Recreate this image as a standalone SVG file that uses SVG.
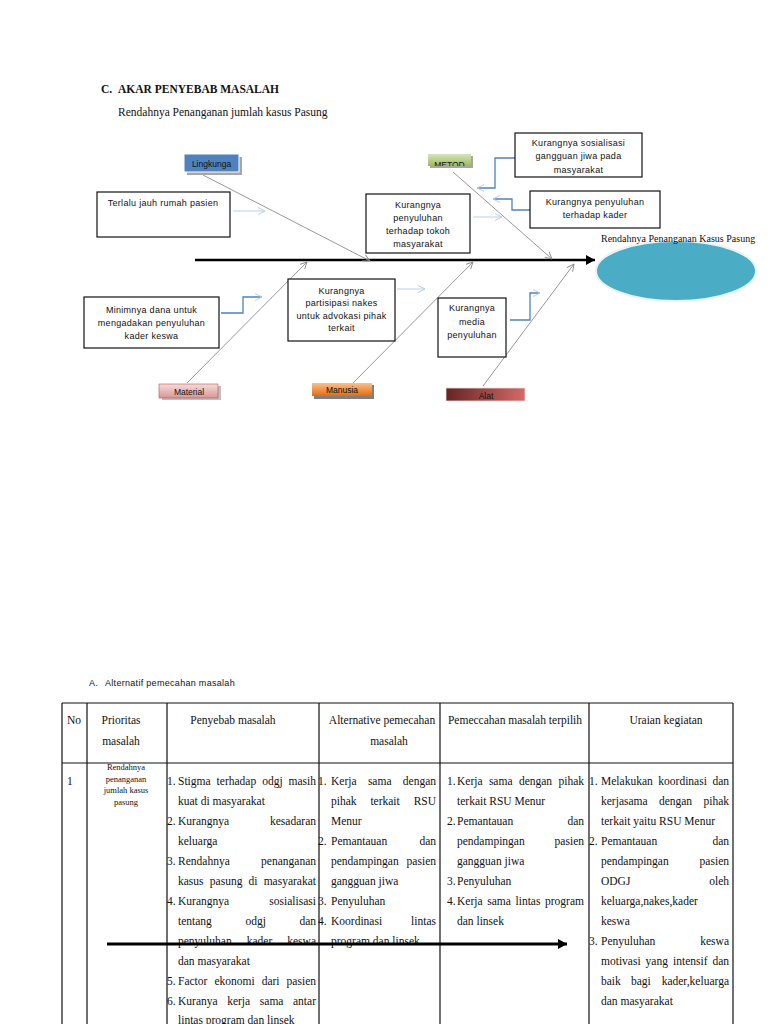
<svg xmlns="http://www.w3.org/2000/svg" width="768" height="1024" viewBox="0 0 768 1024">
<style>
.serif{font-family:"Liberation Serif","Times New Roman",serif;fill:#111}
.sans{font-family:"Liberation Sans",Arial,sans-serif;fill:#111;font-size:9px;letter-spacing:0.3px}
.box{fill:#fff;stroke:#111;stroke-width:1.2}
.diag{stroke:#8c8c8c;stroke-width:0.9;fill:none}
.faint{stroke:#c6d9f1;stroke-width:1.2;fill:none}
.elbow{stroke:#4f81bd;stroke-width:1.3;fill:none}
.tl{stroke:#111;stroke-width:1.2}
.t{font-family:"Liberation Serif","Times New Roman",serif;font-size:11.5px;fill:#111}
.e{text-anchor:end}
.m{text-anchor:middle}
.lbl{font-family:"Liberation Sans",Arial,sans-serif;font-size:8.5px;fill:#111;text-anchor:middle}
</style>
<defs>
<marker id="mg" markerUnits="userSpaceOnUse" markerWidth="10" markerHeight="10" refX="7" refY="4" orient="auto"><path d="M0,0.5 L7,4 L0,7.5" fill="none" stroke="#8c8c8c" stroke-width="0.9"/></marker>
<marker id="ml" markerUnits="userSpaceOnUse" markerWidth="10" markerHeight="10" refX="7" refY="4" orient="auto"><path d="M0,0.5 L7,4 L0,7.5" fill="none" stroke="#b8cce4" stroke-width="1"/></marker>
<marker id="mb" markerUnits="userSpaceOnUse" markerWidth="12" markerHeight="12" refX="9" refY="5" orient="auto"><path d="M0,0 L9,5 L0,10 Z" fill="#000"/></marker>
<linearGradient id="gMat" x1="0" y1="0" x2="0" y2="1"><stop offset="0" stop-color="#f2dcdb"/><stop offset="1" stop-color="#d99694"/></linearGradient>
<linearGradient id="gMan" x1="0" y1="0" x2="0" y2="1"><stop offset="0" stop-color="#fbc08f"/><stop offset="1" stop-color="#e36c09"/></linearGradient>
<linearGradient id="gAlat" x1="0" y1="0" x2="1" y2="0"><stop offset="0" stop-color="#632523"/><stop offset="1" stop-color="#d46a67"/></linearGradient>
<linearGradient id="gMet" x1="0" y1="0" x2="0" y2="1"><stop offset="0" stop-color="#d7e4bd"/><stop offset="1" stop-color="#9bbb59"/></linearGradient>
<clipPath id="cMet"><rect x="428" y="154" width="43" height="12"/></clipPath>
</defs>

<g id="title">
<text class="serif" x="101" y="93" font-size="11.5" font-weight="bold">C.</text>
<text class="serif" x="118" y="93" font-size="11.5" font-weight="bold">AKAR PENYEBAB MASALAH</text>
<text class="serif" x="118" y="116" font-size="11.5">Rendahnya Penanganan jumlah kasus Pasung</text>
</g>

<g id="connectors">
<line x1="195" y1="260" x2="595" y2="260" stroke="#000" stroke-width="2.5" marker-end="url(#mb)"/>
<line class="diag" x1="203" y1="175" x2="370" y2="261" marker-end="url(#mg)"/>
<line class="diag" x1="453" y1="172" x2="552" y2="259" marker-end="url(#mg)"/>
<line class="diag" x1="187" y1="383" x2="307" y2="262" marker-end="url(#mg)"/>
<line class="diag" x1="353" y1="383" x2="473" y2="262" marker-end="url(#mg)"/>
<line class="diag" x1="483" y1="386" x2="574" y2="264" marker-end="url(#mg)"/>
<line class="faint" x1="233" y1="211" x2="265" y2="211" marker-end="url(#ml)"/>
<line class="faint" x1="473" y1="217" x2="502" y2="217" marker-end="url(#ml)"/>
<line class="faint" x1="397" y1="289" x2="425" y2="289" marker-end="url(#ml)"/>
<polyline class="elbow" points="515,158 495,158 495,188 477,188" marker-end="url(#ml)"/>
<polyline class="elbow" points="530,210 512,210 512,199 493,199" marker-end="url(#ml)"/>
<polyline class="elbow" points="221,313 243,313 243,297 262,297" marker-end="url(#ml)"/>
<polyline class="elbow" points="510,320 530,320 530,293 540,293" marker-end="url(#ml)"/>
</g>

<g id="lingkungan">
<rect x="187" y="157" width="55" height="18" fill="#a6a6a6"/>
<rect x="184" y="154" width="55" height="18" fill="#4f81bd" stroke="#fff" stroke-width="1"/>
<text class="lbl" x="211.5" y="166.5">Lingkunga</text>
</g>

<g id="metode">
<rect x="430" y="156" width="43" height="12" fill="#a6a6a6"/>
<rect x="428" y="154" width="43" height="12" fill="url(#gMet)"/>
<text class="lbl" x="449.5" y="167.5" clip-path="url(#cMet)">METOD</text>
</g>

<g id="material">
<rect x="162" y="386" width="59" height="14" fill="#bfbfbf"/>
<rect x="159" y="384" width="59" height="14" fill="url(#gMat)" stroke="#c0504d" stroke-width="0.6"/>
<text class="lbl" x="189" y="394.5">Material</text>
</g>

<g id="manusia">
<rect x="314" y="385" width="60" height="14" fill="#7f7f7f"/>
<rect x="312" y="383" width="60" height="13" fill="url(#gMan)"/>
<text class="lbl" x="342" y="393">Manusia</text>
</g>

<g id="alat">
<rect x="446" y="388" width="79" height="13" fill="url(#gAlat)" stroke="#f2dcdb" stroke-width="0.8"/>
<text class="lbl" x="486" y="398.5">Alat</text>
</g>

<g id="n-terlalu">
<rect class="box" x="97" y="192" width="133" height="45"/>
<text class="sans" x="163" y="206" text-anchor="middle">Terlalu jauh rumah pasien</text>
</g>

<g id="n-sosialisasi">
<rect class="box" x="515" y="133" width="127" height="44"/>
<text class="sans" text-anchor="middle"><tspan x="578.5" y="145.5">Kurangnya sosialisasi</tspan><tspan x="578.5" y="159">gangguan jiwa pada</tspan><tspan x="578.5" y="172.5">masyarakat</tspan></text>
</g>

<g id="n-kader">
<rect class="box" x="530" y="191" width="130" height="37"/>
<text class="sans" text-anchor="middle"><tspan x="595" y="204.5">Kurangnya penyuluhan</tspan><tspan x="595" y="218">terhadap kader</tspan></text>
</g>

<g id="n-tokoh">
<rect class="box" x="366" y="194" width="104" height="59"/>
<text class="sans" text-anchor="middle"><tspan x="418" y="208">Kurangnya</tspan><tspan x="418" y="221">penyuluhan</tspan><tspan x="418" y="234">terhadap tokoh</tspan><tspan x="418" y="247">masyarakat</tspan></text>
</g>

<g id="n-dana">
<rect class="box" x="84" y="297" width="135" height="51"/>
<text class="sans" text-anchor="middle"><tspan x="151.5" y="312.5">Minimnya dana untuk</tspan><tspan x="151.5" y="325.5">mengadakan penyuluhan</tspan><tspan x="151.5" y="338.5">kader keswa</tspan></text>
</g>

<g id="n-nakes">
<rect class="box" x="288" y="279" width="107" height="62"/>
<text class="sans" text-anchor="middle"><tspan x="341.5" y="293.5">Kurangnya</tspan><tspan x="341.5" y="306">partisipasi nakes</tspan><tspan x="341.5" y="318.5">untuk advokasi pihak</tspan><tspan x="341.5" y="331">terkait</tspan></text>
</g>

<g id="n-media">
<rect class="box" x="438" y="298" width="68" height="59"/>
<text class="sans" text-anchor="middle"><tspan x="472" y="311">Kurangnya</tspan><tspan x="472" y="324.5">media</tspan><tspan x="472" y="338">penyuluhan</tspan></text>
</g>

<g id="n-effect">
<ellipse cx="676" cy="271" rx="80" ry="30" fill="#4bacc6" stroke="#e8f3f8" stroke-width="2"/>
<text class="serif" x="601" y="242" font-size="10">Rendahnya Penanganan Kasus Pasung</text>
</g>

<g id="table-title">
<text class="sans" x="89" y="686" font-size="9" letter-spacing="0.2">A.</text>
<text class="sans" x="105" y="686" font-size="9" letter-spacing="0.2">Alternatif  pemecahan masalah</text>
</g>

<g id="table">
<line class="tl" x1="62" y1="703" x2="733" y2="703"/>
<line class="tl" x1="62" y1="763" x2="733" y2="763"/>
<line class="tl" x1="62" y1="703" x2="62" y2="1024"/>
<line class="tl" x1="87" y1="703" x2="87" y2="1024"/>
<line class="tl" x1="167" y1="703" x2="167" y2="1024"/>
<line class="tl" x1="319" y1="703" x2="319" y2="1024"/>
<line class="tl" x1="440" y1="703" x2="440" y2="1024"/>
<line class="tl" x1="589" y1="703" x2="589" y2="1024"/>
<line class="tl" x1="733" y1="703" x2="733" y2="1024"/>

<text class="t" x="67" y="724">No</text>
<text class="t m" x="121" y="724">Prioritas</text>
<text class="t m" x="121" y="745">masalah</text>
<text class="t m" x="233" y="724">Penyebab masalah</text>
<text class="t m" x="382" y="724">Alternative pemecahan</text>
<text class="t m" x="389" y="745">masalah</text>
<text class="t m" x="515" y="724">Pemeccahan masalah terpilih</text>
<text class="t m" x="666" y="724">Uraian kegiatan</text>

<text class="t" x="67" y="785">1</text>
<g class="serif" font-size="8.5" text-anchor="middle">
<text x="126" y="770">Rendahnya</text>
<text x="126" y="781.5">penanganan</text>
<text x="126" y="793">jumlah kasus</text>
<text x="126" y="804.5">pasung</text>
</g>

<!-- column 3 -->
<text class="t" x="167" y="785">1.</text><text class="t" x="178" y="785">Stigma</text><text class="t" x="216.6" y="785">terhadap</text><text class="t" x="262.2" y="785">odgj</text><text class="t e" x="316" y="785">masih</text>
<text class="t" x="178" y="805">kuat di masyarakat</text>
<text class="t" x="167" y="825">2.</text><text class="t" x="178" y="825">Kurangnya</text><text class="t e" x="316" y="825">kesadaran</text>
<text class="t" x="178" y="845">keluarga</text>
<text class="t" x="167" y="865">3.</text><text class="t" x="178" y="865">Rendahnya</text><text class="t e" x="316" y="865">penanganan</text>
<text class="t" x="178" y="885">kasus</text><text class="t" x="209.8" y="885">pasung</text><text class="t" x="248.6" y="885">di</text><text class="t e" x="316" y="885">masyarakat</text>
<text class="t" x="167" y="905">4.</text><text class="t" x="178" y="905">Kurangnya</text><text class="t e" x="316" y="905">sosialisasi</text>
<text class="t" x="178" y="925">tentang</text><text class="t" x="245.4" y="925">odgj</text><text class="t e" x="316" y="925">dan</text>
<text class="t" x="178" y="945">penyuluhan</text><text class="t" x="246.7" y="945">kader</text><text class="t e" x="316" y="945">keswa</text>
<text class="t" x="178" y="965">dan masyarakat</text>
<text class="t" x="167" y="985">5.</text><text class="t" x="178" y="985">Factor</text><text class="t" x="214.4" y="985">ekonomi</text><text class="t" x="261.7" y="985">dari</text><text class="t e" x="316" y="985">pasien</text>
<text class="t" x="167" y="1005">6.</text><text class="t" x="178" y="1005">Kuranya</text><text class="t" x="227.2" y="1005">kerja</text><text class="t" x="259.8" y="1005">sama</text><text class="t e" x="316" y="1005">antar</text>
<text class="t" x="178" y="1024">lintas program dan linsek</text>

<!-- column 4 -->
<text class="t" x="318" y="785">1.</text><text class="t" x="331" y="785">Kerja</text><text class="t" x="367.9" y="785">sama</text><text class="t e" x="436" y="785">dengan</text>
<text class="t" x="331" y="805">pihak</text><text class="t" x="370.4" y="805">terkait</text><text class="t e" x="436" y="805">RSU</text>
<text class="t" x="331" y="825">Menur</text>
<text class="t" x="318" y="845">2.</text><text class="t" x="331" y="845">Pemantauan</text><text class="t e" x="436" y="845">dan</text>
<text class="t" x="331" y="865">pendampingan</text><text class="t e" x="436" y="865">pasien</text>
<text class="t" x="331" y="885">gangguan jiwa</text>
<text class="t" x="318" y="905">3.</text><text class="t" x="331" y="905">Penyuluhan</text>
<text class="t" x="318" y="925">4.</text><text class="t" x="331" y="925">Koordinasi</text><text class="t e" x="436" y="925">lintas</text>
<text class="t" x="331" y="945">program dan linsek</text>

<!-- column 5 -->
<text class="t" x="447" y="785">1.</text><text class="t" x="457" y="785">Kerja</text><text class="t" x="488.9" y="785">sama</text><text class="t" x="518.9" y="785">dengan</text><text class="t e" x="584" y="785">pihak</text>
<text class="t" x="457" y="805">terkait RSU Menur</text>
<text class="t" x="447" y="825">2.</text><text class="t" x="457" y="825">Pemantauan</text><text class="t e" x="584" y="825">dan</text>
<text class="t" x="457" y="845">pendampingan</text><text class="t e" x="584" y="845">pasien</text>
<text class="t" x="457" y="865">gangguan jiwa</text>
<text class="t" x="447" y="885">3.</text><text class="t" x="457" y="885">Penyuluhan</text>
<text class="t" x="447" y="905">4.</text><text class="t" x="457" y="905">Kerja</text><text class="t" x="487.2" y="905">sama</text><text class="t" x="515.5" y="905">lintas</text><text class="t e" x="584" y="905">program</text>
<text class="t" x="457" y="925">dan linsek</text>

<!-- column 6 -->
<text class="t" x="589" y="785">1.</text><text class="t" x="601" y="785">Melakukan</text><text class="t" x="658.3" y="785">koordinasi</text><text class="t e" x="729" y="785">dan</text>
<text class="t" x="601" y="805">kerjasama</text><text class="t" x="658.9" y="805">dengan</text><text class="t e" x="729" y="805">pihak</text>
<text class="t" x="601" y="825">terkait yaitu RSU Menur</text>
<text class="t" x="589" y="845">2.</text><text class="t" x="601" y="845">Pemantauan</text><text class="t e" x="729" y="845">dan</text>
<text class="t" x="601" y="865">pendampingan</text><text class="t e" x="729" y="865">pasien</text>
<text class="t" x="601" y="885">ODGJ</text><text class="t e" x="729" y="885">oleh</text>
<text class="t" x="601" y="905">keluarga,nakes,kader</text>
<text class="t" x="601" y="925">keswa</text>
<text class="t" x="589" y="945">3.</text><text class="t" x="601" y="945">Penyuluhan</text><text class="t e" x="729" y="945">keswa</text>
<text class="t" x="601" y="965">motivasi</text><text class="t" x="645.6" y="965">yang</text><text class="t" x="673" y="965">intensif</text><text class="t e" x="729" y="965">dan</text>
<text class="t" x="601" y="985">baik</text><text class="t" x="631" y="985">bagi</text><text class="t e" x="729" y="985">kader,keluarga</text>
<text class="t" x="601" y="1005">dan masyarakat</text>
</g>

<g id="table-arrow">
<line x1="107" y1="944" x2="567" y2="944" stroke="#000" stroke-width="3" marker-end="url(#mb)"/>
</g>
</svg>
